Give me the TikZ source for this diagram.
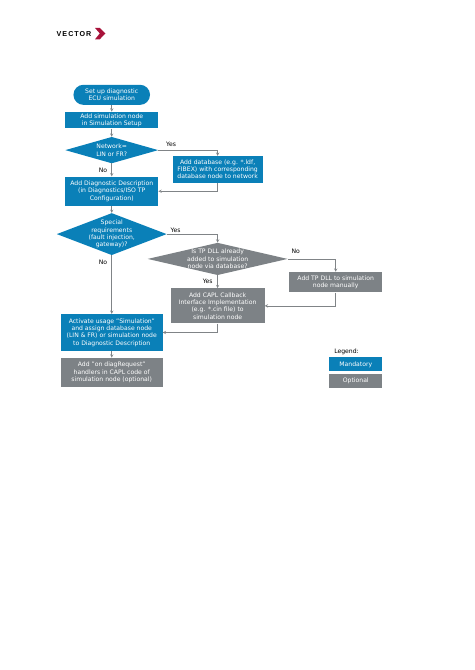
\documentclass[tikz,border=0pt]{standalone}
\usepackage{fontspec}
\setmainfont{DejaVu Sans}
\newfontfamily\logofont[LetterSpace=14]{Liberation Sans Bold}
\usetikzlibrary{shapes.geometric}
\definecolor{mandblue}{HTML}{0A80B8}
\definecolor{optgray}{HTML}{7D8286}
\definecolor{linegray}{HTML}{808487}
\definecolor{logored}{HTML}{A8123A}
\tikzset{
    step box/.style={rectangle, fill=#1, text=white, align=center, inner sep=0pt, font=\fontsize{7.7}{9.2}\selectfont},
    step dia/.style={diamond, fill=#1, inner sep=0pt},
    dia text/.style={text=white, align=center, inner sep=0pt, font=\fontsize{7.7}{9.2}\selectfont},
    flow/.style={draw=linegray, line width=0.85pt, -stealth},
    edge label/.style={inner sep=0pt, text=black, font=\fontsize{7.7}{9.2}\selectfont}
}
\begin{document}
\begin{tikzpicture}
    \useasboundingbox (0,0) rectangle (21,-29.68);

    % Logo
    \node[inner sep=0pt, font=\fontsize{9}{10}\logofont] (Logo) at (3.28,-1.51) {VECTOR};
    \fill[logored] (4.21,-1.24) -- (4.42,-1.24) -- (4.67,-1.48) -- (4.42,-1.74) -- (4.21,-1.74) -- (4.42,-1.48) -- cycle;

    % Main column
    \node[step box=mandblue, rounded corners=0.44cm, minimum width=3.39cm, minimum height=0.89cm] (Start) at (4.95,-4.2) {Set up diagnostic\\ECU simulation};
    \node[step box=mandblue, minimum width=4.12cm, minimum height=0.74cm] (SimNode) at (4.95,-5.32) {Add simulation node\\in Simulation Setup};
    \node[step dia=mandblue, minimum width=4.12cm, minimum height=1.17cm, label={[dia text]center:Network=\\LIN or FR?}] (Network) at (4.95,-6.65) {};
    \node[step box=mandblue, minimum width=4.12cm, minimum height=1.3cm] (DiagDesc) at (4.95,-8.47) {Add Diagnostic Description\\(in Diagnostics/ISO TP\\Configuration)};
    \node[step dia=mandblue, minimum width=4.87cm, minimum height=1.86cm, label={[dia text]center:Special\\requirements\\(fault injection,\\gateway)?}] (Special) at (4.95,-10.37) {};
    \node[step box=mandblue, minimum width=4.5cm, minimum height=1.64cm] (Activate) at (4.95,-14.73) {Activate usage "Simulation"\\and assign database node\\(LIN \& FR) or simulation node\\to Diagnostic Description};
    \node[step box=optgray, minimum width=4.5cm, minimum height=1.3cm] (DiagReq) at (4.95,-16.5) {Add "on diagRequest"\\handlers in CAPL code of\\simulation node (optional)};

    % Side branches
    \node[step box=mandblue, minimum width=3.99cm, minimum height=1.18cm] (Database) at (9.64,-7.5) {Add database (e.g. *.ldf,\\FIBEX) with corresponding\\database node to network};
    \node[step dia=optgray, minimum width=6.2cm, minimum height=1.43cm, label={[dia text]center:Is TP DLL already\\added to simulation\\node via database?}] (TpDll) at (9.64,-11.47) {};
    \node[step box=optgray, minimum width=4.13cm, minimum height=0.91cm] (Manual) at (14.87,-12.5) {Add TP DLL to simulation\\node manually};
    \node[step box=optgray, minimum width=4.16cm, minimum height=1.55cm] (Capl) at (9.64,-13.55) {Add CAPL Callback\\Interface Implementation\\(e.g. *.cin file) to\\simulation node};

    % Legend
    \node[edge label, anchor=west] (LegendTitle) at (14.8,-15.6) {Legend:};
    \node[step box=mandblue, minimum width=2.35cm, minimum height=0.62cm] (Mand) at (15.76,-16.14) {Mandatory};
    \node[step box=optgray, minimum width=2.35cm, minimum height=0.62cm] (Opt) at (15.76,-16.86) {Optional};

    % Edges of the main column
    \draw[flow] (Start) -- (SimNode);
    \draw[flow] (SimNode) -- (Network);
    \draw[flow] (Network) -- (DiagDesc);
    \draw[flow] (DiagDesc) -- (Special);
    \draw[flow] (Special) -- (Activate);
    \draw[flow] (Activate) -- (DiagReq);

    % Edges of the branches
    \draw[flow] (Network.east) -| (Database.north);
    \draw[flow] (Database.south) |- (DiagDesc.east);
    \draw[flow] (Special.east) -| (TpDll.north);
    \draw[flow] (TpDll.east) -| (Manual.north);
    \draw[flow] (TpDll.south) -- (Capl.north);
    \draw[flow] (Manual.south) |- (Capl.east);
    \draw[flow] (Capl.south) |- (Activate.east);

    % Yes and No labels
    \node[edge label] (NetYes) at (7.58,-6.38) {Yes};
    \node[edge label] (NetNo) at (4.56,-7.55) {No};
    \node[edge label] (SpecYes) at (7.78,-10.2) {Yes};
    \node[edge label] (SpecNo) at (4.56,-11.63) {No};
    \node[edge label] (TpNo) at (13.1,-11.15) {No};
    \node[edge label] (TpYes) at (9.2,-12.47) {Yes};
\end{tikzpicture}
\end{document}
